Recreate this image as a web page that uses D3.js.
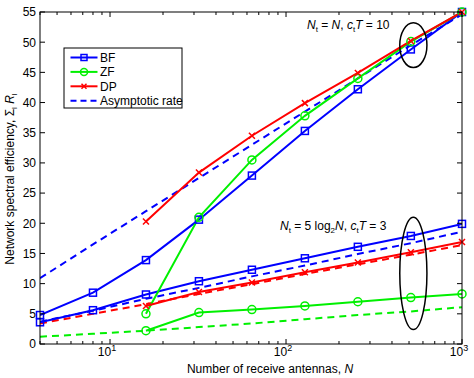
<!DOCTYPE html>
<html><head><meta charset="utf-8">
<script src="https://cdn.jsdelivr.net/npm/d3@7"></script>
<style>body{margin:0;background:#fff}text{font-family:"Liberation Sans",Arial,sans-serif}</style>
</head><body><svg id="c" width="474" height="378"></svg>
<script>
const N = [4, 8, 16, 32, 64, 128, 256, 512, 1000];
const Nsub = [16, 32, 64, 128, 256, 512, 1000];
// Upper group: N_t = N, c_t T = 10
const bfHigh = [4.8, 8.5, 13.9, 20.6, 27.9, 35.3, 42.2, 48.8, 55.0];
const zfHigh = [5.0, 21.0, 30.5, 37.8, 44.0, 50.1, 55.0];
const dpHigh = [20.3, 28.4, 34.5, 39.9, 44.9, 50.2, 55.0];
const asyHigh = [10.9, 16.5, 22.0, 27.5, 33.0, 38.5, 44.0, 49.5, 54.6];
// Lower group: N_t = 5 log2 N, c_t T = 3
const bfLow = [3.6, 5.6, 8.2, 10.4, 12.3, 14.2, 16.1, 17.9, 19.9];
const zfLow = [2.2, 5.2, 5.7, 6.3, 7.0, 7.7, 8.3];
const dpLow = [6.3, 8.6, 10.2, 11.9, 13.5, 15.2, 16.9];
const asyBlueLow = [3.7, 5.5, 7.5, 9.3, 11.2, 13.0, 14.9, 16.7, 18.6];
const asyRedLow = [3.4, 5.0, 6.6, 8.3, 9.9, 11.6, 13.2, 14.8, 16.4];
const asyGreenLow = [1.2, 1.7, 2.2, 2.8, 3.4, 4.1, 4.8, 5.4, 6.1];
const yTicks = [0, 5, 10, 15, 20, 25, 30, 35, 40, 45, 50, 55];
const xMajor = [10, 100, 1000];
const xMinor = [4,5,6,7,8,9,20,30,40,50,60,70,80,90,200,300,400,500,600,700,800,900];
const legendLabels = ["BF", "ZF", "DP", "Asymptotic rate"];

const BLUE = "#0000ff", GREEN = "#00f000", RED = "#ff0000";
const svg = d3.select("#c");
const L = 40, R = 462, T = 12, B = 344;
const x = d3.scaleLog().domain([4, 1000]).range([L, R]);
const y = d3.scaleLinear().domain([0, 55]).range([B, T]);

svg.append("rect").attr("x", L).attr("y", T).attr("width", R - L).attr("height", B - T)
  .attr("fill", "#fff");

const clip = svg.append("clipPath").attr("id", "pc").append("rect")
  .attr("x", L).attr("y", T).attr("width", R - L).attr("height", B - T);
const plot = svg.append("g").attr("clip-path", "url(#pc)");

function line(xs, ys, color, dashed) {
  const gen = d3.line().x((d, i) => x(xs[i])).y(d => y(d));
  plot.append("path").datum(ys).attr("d", gen).attr("fill", "none")
    .attr("stroke", color).attr("stroke-width", 2)
    .attr("stroke-dasharray", dashed ? "7,5" : null);
}
function markers(xs, ys, color, type) {
  const sel = svg.append("g");
  ys.forEach((v, i) => {
    const cx = x(xs[i]), cy = y(v);
    if (type === "sq") {
      sel.append("rect").attr("x", cx - 3.5).attr("y", cy - 3.5).attr("width", 7).attr("height", 7)
        .attr("fill", "none").attr("stroke", color).attr("stroke-width", 1.5);
    } else if (type === "ci") {
      sel.append("circle").attr("cx", cx).attr("cy", cy).attr("r", 4)
        .attr("fill", "none").attr("stroke", color).attr("stroke-width", 1.5);
    } else {
      sel.append("path").attr("d", `M${cx-3},${cy-3}L${cx+3},${cy+3}M${cx-3},${cy+3}L${cx+3},${cy-3}`)
        .attr("stroke", color).attr("stroke-width", 1.5);
    }
  });
}

// dashed asymptotes
line(N, asyHigh, BLUE, true);
line(N, asyBlueLow, BLUE, true);
line(N, asyRedLow, RED, true);
line(N, asyGreenLow, GREEN, true);
// solid series
line(N, bfHigh, BLUE); line(N, bfLow, BLUE);
line(Nsub, zfHigh, GREEN); line(Nsub, zfLow, GREEN);
line(Nsub, dpHigh, RED); line(Nsub, dpLow, RED);
markers(N, bfHigh, BLUE, "sq"); markers(N, bfLow, BLUE, "sq");
markers(Nsub, zfHigh, GREEN, "ci"); markers(Nsub, zfLow, GREEN, "ci");
markers(Nsub, dpHigh, RED, "x"); markers(Nsub, dpLow, RED, "x");

// axes box and ticks (MATLAB style, inward)
const ax = svg.append("g").attr("stroke", "#000").attr("stroke-width", 1);
ax.append("rect").attr("x", L).attr("y", T).attr("width", R - L).attr("height", B - T).attr("fill", "none");
yTicks.forEach(t => {
  ax.append("line").attr("x1", L).attr("x2", L + 5).attr("y1", y(t)).attr("y2", y(t));
  ax.append("line").attr("x1", R).attr("x2", R - 5).attr("y1", y(t)).attr("y2", y(t));
  svg.append("text").attr("x", L - 4).attr("y", y(t)).attr("dy", "0.36em").attr("text-anchor", "end")
    .attr("font-size", 12).text(t);
});
xMajor.forEach(t => {
  ax.append("line").attr("x1", x(t)).attr("x2", x(t)).attr("y1", B).attr("y2", B - 5);
  ax.append("line").attr("x1", x(t)).attr("x2", x(t)).attr("y1", T).attr("y2", T + 5);
  const tx = svg.append("text").attr("x", x(t) - 3).attr("y", B + 12).attr("text-anchor", "middle").attr("font-size", 12);
  tx.append("tspan").text("10");
  tx.append("tspan").attr("dy", -5).attr("font-size", 9).text(Math.round(Math.log10(t)));
});
xMinor.forEach(t => {
  ax.append("line").attr("x1", x(t)).attr("x2", x(t)).attr("y1", B).attr("y2", B - 3);
  ax.append("line").attr("x1", x(t)).attr("x2", x(t)).attr("y1", T).attr("y2", T + 3);
});

// axis labels
const xl = svg.append("text").attr("x", 270).attr("y", 373).attr("text-anchor", "middle").attr("font-size", 12);
xl.append("tspan").text("Number of receive antennas,  ");
xl.append("tspan").attr("font-style", "italic").text("N");
const yl = svg.append("text").attr("transform", "translate(14,179) rotate(-90)").attr("text-anchor", "middle").attr("font-size", 12);
yl.append("tspan").text("Network spectral efficiency, Σ");
yl.append("tspan").attr("dy", 3).attr("font-size", 8).text("l");
yl.append("tspan").attr("dy", -3).text(" ");
yl.append("tspan").attr("font-style", "italic").text("R");
yl.append("tspan").attr("dy", 3).attr("font-size", 8).text("l");

// annotations
function ell(n0, n1, v0, v1) {
  svg.append("ellipse").attr("cx", (x(n0) + x(n1)) / 2).attr("cy", (y(v0) + y(v1)) / 2)
    .attr("rx", (x(n1) - x(n0)) / 2).attr("ry", (y(v0) - y(v1)) / 2)
    .attr("fill", "none").attr("stroke", "#000").attr("stroke-width", 1.5);
}
ell(443, 632, 45.8, 53.2);
ell(443, 632, 2.4, 21.0);

function ann(xp, yp, parts) {
  const t = svg.append("text").attr("x", xp).attr("y", yp).attr("font-size", 12);
  parts.forEach(p => {
    const s = t.append("tspan").text(p.t);
    if (p.i) s.attr("font-style", "italic");
    if (p.sub) s.attr("dy", 3).attr("font-size", 8);
    if (p.up) s.attr("dy", -3);
  });
}
ann(307, 29, [{t:"N",i:1},{t:"t",sub:1},{t:" = ",up:1},{t:"N",i:1},{t:", "},{t:"c",i:1},{t:"t",sub:1},{t:"T",i:1,up:1},{t:" = 10"}]);
ann(280, 230, [{t:"N",i:1},{t:"t",sub:1},{t:" = 5 log",up:1},{t:"2",sub:1},{t:"N",i:1,up:1},{t:", "},{t:"c",i:1},{t:"t",sub:1},{t:"T",i:1,up:1},{t:" = 3"}]);

// legend
const lg = svg.append("g");
lg.append("rect").attr("x", 64).attr("y", 48).attr("width", 118).attr("height", 60)
  .attr("fill", "#fff").attr("stroke", "#000").attr("stroke-width", 1);
const lc = [BLUE, GREEN, RED, BLUE], lm = ["sq", "ci", "x", null];
legendLabels.forEach((lab, i) => {
  const yy = 57.5 + i * 14.4;
  lg.append("line").attr("x1", 70.5).attr("x2", 97.5).attr("y1", yy).attr("y2", yy)
    .attr("stroke", lc[i]).attr("stroke-width", 2).attr("stroke-dasharray", i === 3 ? "6,4" : null);
  const mx = 84;
  if (lm[i] === "sq") lg.append("rect").attr("x", mx - 3).attr("y", yy - 3).attr("width", 6).attr("height", 6).attr("fill", "none").attr("stroke", lc[i]).attr("stroke-width", 1.5);
  if (lm[i] === "ci") lg.append("circle").attr("cx", mx).attr("cy", yy).attr("r", 3.5).attr("fill", "none").attr("stroke", lc[i]).attr("stroke-width", 1.5);
  if (lm[i] === "x") lg.append("path").attr("d", `M${mx-2.5},${yy-2.5}L${mx+2.5},${yy+2.5}M${mx-2.5},${yy+2.5}L${mx+2.5},${yy-2.5}`).attr("stroke", lc[i]).attr("stroke-width", 1.5);
  lg.append("text").attr("x", 100).attr("y", yy).attr("dy", "0.36em").attr("font-size", 12).text(lab);
});
</script></body></html>
